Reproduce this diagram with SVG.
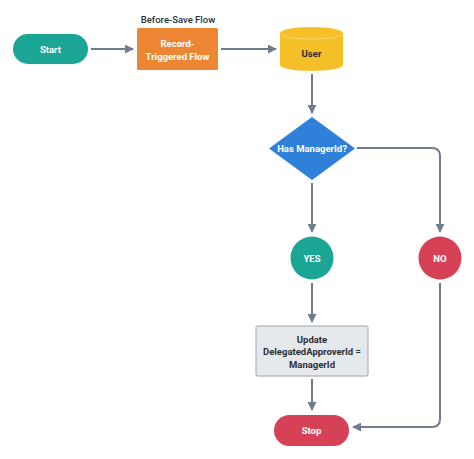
<svg xmlns="http://www.w3.org/2000/svg" width="474" height="459" viewBox="0 0 474 459">
<defs>
<marker id="ah" viewBox="0 0 10 10" refX="9" refY="5" markerWidth="4.5" markerHeight="4.5" orient="auto" markerUnits="strokeWidth">
<path d="M0,0 L10,5 L0,10 z" fill="#6F7D8C"/>
</marker>
<style>
.t{font-family:Roboto,"Liberation Sans",sans-serif;font-weight:bold;font-size:9.5px;text-anchor:middle;dominant-baseline:central}
.w{fill:#ffffff}
.d{fill:#2b2f36}
.c{fill:none;stroke:#6F7D8C;stroke-width:2;marker-end:url(#ah)}
</style>
</defs>
<rect width="474" height="459" fill="#ffffff"/>
<g id="connectors">
<path class="c" d="M91,49 H133"/>
<path class="c" d="M221,49 H276"/>
<path class="c" d="M312,74 V113"/>
<path class="c" d="M312,183 V232"/>
<path class="c" d="M357,148 H432 Q440,148 440,156 V232"/>
<path class="c" d="M312,283 V322"/>
<path class="c" d="M440,283 V419 Q440,427 432,427 H353"/>
<path class="c" d="M312,379 V410"/>
</g>
<g id="start">
<rect x="13" y="34" width="75" height="30" rx="15" fill="#1BA595"/>
<text class="t w" x="50.5" y="49">Start</text>
</g>
<g id="record">
<text class="t" x="178" y="19" fill="#2b2f36" style="font-weight:500">Before-Save Flow</text>
<rect x="137" y="28" width="81" height="42" rx="1.5" fill="#EC8634"/>
<text class="t w" x="177.5" y="43">Record-</text>
<text class="t w" x="177.5" y="56">Triggered Flow</text>
</g>
<g id="user">
<path d="M280,33 A31.5,6 0 0 1 343,33 V65 A31.5,6 0 0 1 280,65 Z" fill="#F5BF27"/>
<path d="M280,33 A31.5,6 0 0 0 343,33" fill="none" stroke="#FAD56A" stroke-width="1"/>
<text class="t d" x="311.5" y="53">User</text>
</g>
<g id="decision">
<path d="M312,117 L355,148.5 L312,180 L269,148.5 Z" fill="#2E80D8"/>
<text class="t w" x="312" y="148.5">Has ManagerId?</text>
</g>
<g id="yes">
<circle cx="312" cy="258" r="21.5" fill="#1BA595"/>
<text class="t w" x="312" y="258">YES</text>
</g>
<g id="no">
<circle cx="440" cy="258" r="21.5" fill="#D64156"/>
<text class="t w" x="440" y="258">NO</text>
</g>
<g id="update">
<rect x="256" y="326" width="112" height="50" rx="1.5" fill="#E6E9EC" stroke="#9CA3AB" stroke-width="1"/>
<text class="t d" x="312" y="339">Update</text>
<text class="t d" x="312" y="351.5">DelegatedApproverId =</text>
<text class="t d" x="312" y="364">ManagerId</text>
</g>
<g id="stop">
<rect x="274" y="415" width="75" height="31" rx="15.5" fill="#D64156"/>
<text class="t w" x="311.5" y="430.5">Stop</text>
</g>
</svg>
